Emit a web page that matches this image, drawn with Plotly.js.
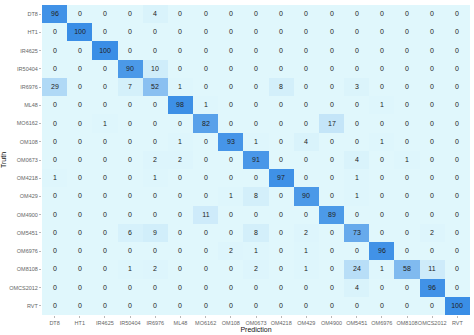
<!DOCTYPE html>
<html>
<head>
<meta charset="utf-8">
<script src="https://cdn.plot.ly/plotly-3.0.1.min.js"></script>
<style>html,body{margin:0;padding:0;background:#fff;}#chart{width:474px;height:335px;}</style>
</head>
<body>
<div id="chart"></div>
<script>
const classes = ["DT8","HT1","IR4625","IR50404","IR6976","ML48","MO6162","OM108","OM0673","OM4218","OM429","OM4900","OM5451","OM6976","OM8108","OMCS2012","RVT"];
const rowDT8      = [96,0,0,0,4,0,0,0,0,0,0,0,0,0,0,0,0];
const rowHT1      = [0,100,0,0,0,0,0,0,0,0,0,0,0,0,0,0,0];
const rowIR4625   = [0,0,100,0,0,0,0,0,0,0,0,0,0,0,0,0,0];
const rowIR50404  = [0,0,0,90,10,0,0,0,0,0,0,0,0,0,0,0,0];
const rowIR6976   = [29,0,0,7,52,1,0,0,0,8,0,0,3,0,0,0,0];
const rowML48     = [0,0,0,0,0,98,1,0,0,0,0,0,0,1,0,0,0];
const rowMO6162   = [0,0,1,0,0,0,82,0,0,0,0,17,0,0,0,0,0];
const rowOM108    = [0,0,0,0,0,1,0,93,1,0,4,0,0,1,0,0,0];
const rowOM0673   = [0,0,0,0,2,2,0,0,91,0,0,0,4,0,1,0,0];
const rowOM4218   = [1,0,0,0,1,0,0,0,0,97,0,0,1,0,0,0,0];
const rowOM429    = [0,0,0,0,0,0,0,1,8,0,90,0,1,0,0,0,0];
const rowOM4900   = [0,0,0,0,0,0,11,0,0,0,0,89,0,0,0,0,0];
const rowOM5451   = [0,0,0,6,9,0,0,0,8,0,2,0,73,0,0,2,0];
const rowOM6976   = [0,0,0,0,0,0,0,2,1,0,1,0,0,96,0,0,0];
const rowOM8108   = [0,0,0,1,2,0,0,0,2,0,1,0,24,1,58,11,0];
const rowOMCS2012 = [0,0,0,0,0,0,0,0,0,0,0,0,4,0,0,96,0];
const rowRVT      = [0,0,0,0,0,0,0,0,0,0,0,0,0,0,0,0,100];

const z = [rowDT8,rowHT1,rowIR4625,rowIR50404,rowIR6976,rowML48,rowMO6162,rowOM108,rowOM0673,rowOM4218,rowOM429,rowOM4900,rowOM5451,rowOM6976,rowOM8108,rowOMCS2012,rowRVT];

const trace = {
  type: 'heatmap',
  x: classes,
  y: classes,
  z: z,
  zmin: 0, zmax: 100,
  colorscale: [[0,'#e0f7fc'],[1,'#3a8ee6']],
  showscale: false,
  texttemplate: '%{z}',
  textfont: {family: 'Liberation Sans, Arial, sans-serif', size: 7, color: '#222'},
  hoverinfo: 'skip'
};

const layout = {
  width: 474, height: 335,
  margin: {l: 42, r: 4, t: 5, b: 20},
  paper_bgcolor: '#ffffff',
  plot_bgcolor: '#e0f7fc',
  font: {family: 'Liberation Sans, Arial, sans-serif', color: '#555'},
  xaxis: {
    type: 'category',
    title: {text: 'Prediction', font: {size: 7, color: '#111'}, standoff: 2},
    tickfont: {size: 5.5, color: '#666'},
    ticks: 'outside', ticklen: 2, tickcolor: '#888', tickwidth: 0.6,
    showgrid: false, zeroline: false, showline: false,
    tickangle: 0, automargin: false
  },
  yaxis: {
    type: 'category',
    autorange: 'reversed',
    title: {text: 'Truth', font: {size: 7, color: '#111'}, standoff: 2},
    tickfont: {size: 5.5, color: '#666'},
    ticks: 'outside', ticklen: 2, tickcolor: '#888', tickwidth: 0.6,
    showgrid: false, zeroline: false, showline: false,
    automargin: false
  }
};

Plotly.newPlot('chart', [trace], layout, {displayModeBar: false, staticPlot: true});
</script>
</body>
</html>
